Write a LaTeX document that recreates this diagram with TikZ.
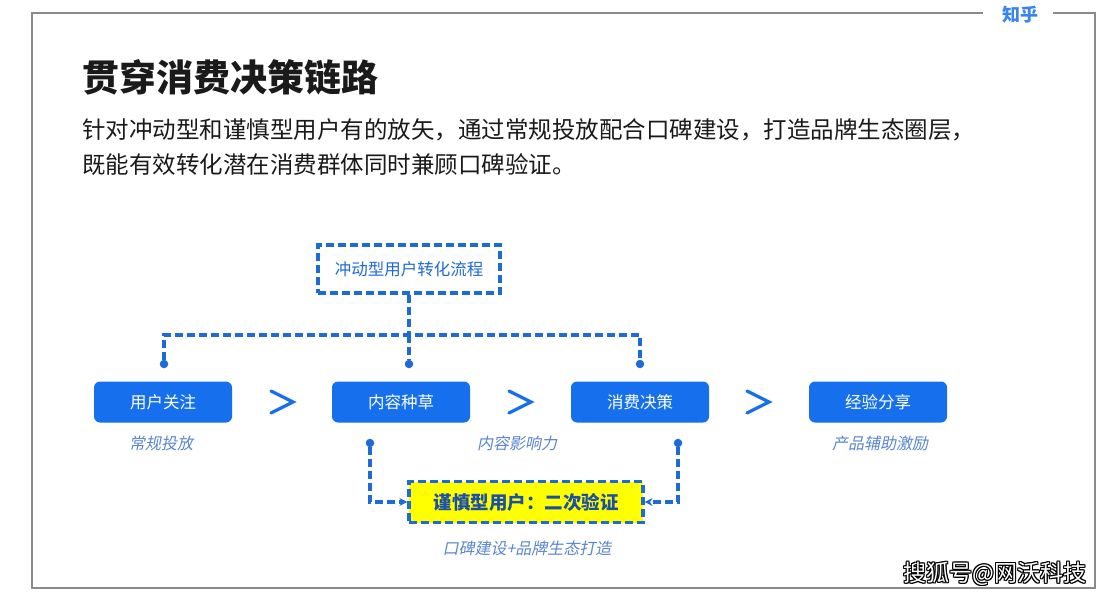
\documentclass[tikz,border=0pt]{standalone}
\usepackage{fontspec}
\setmainfont{Noto Sans CJK SC}
\newfontfamily\cjkit[FakeSlant=0.2]{Noto Sans CJK SC}
\usetikzlibrary{arrows.meta}
\definecolor{mainblue}{HTML}{1670EE}
\definecolor{lineblue}{HTML}{1E6AD6}
\definecolor{labelblue}{HTML}{5A86CF}
\definecolor{frame}{HTML}{8A8A8A}
\definecolor{titlec}{HTML}{1A1A1A}
\definecolor{yel}{HTML}{FFFF00}
\definecolor{darkblue}{HTML}{1C4FA8}
\tikzset{
  x=1pt,y=-1pt,
  stage/.style={fill=mainblue,rounded corners=6pt,minimum width=138pt,minimum height=41pt,inner sep=0pt,text=white,font=\fontsize{16.5}{18}\selectfont},
  dashline/.style={draw=lineblue,line width=3.2pt,dash pattern=on 8pt off 4pt},
  sublabel/.style={text=labelblue,font=\cjkit\fontsize{16}{18}\selectfont,inner sep=0pt},
  dotc/.style={circle,fill=lineblue,inner sep=0pt,minimum size=8.5pt},
  chev/.style={draw=mainblue,line width=3.2pt,line cap=round,line join=miter},
  tip/.style={-{Stealth[length=8pt,width=8pt]}}
}
\begin{document}
\begin{tikzpicture}
\useasboundingbox (0,0) rectangle (1108,599);
\fill[white] (0,0) rectangle (1108,599);
% frame
\draw[frame,line width=1.6pt] (983,13) -- (32,13) -- (32,588) -- (1095,588) -- (1095,13) -- (1053,13);
\node[text=mainblue!85,font=\fontsize{18}{20}\selectfont,inner sep=0pt] (zhihu) at (1020,15) {\bfseries 知乎};
% title and text
\node[anchor=west,text=titlec,font=\bfseries\fontsize{37}{42}\selectfont,inner sep=0pt] (title) at (82,77) {贯穿消费决策链路};
\node[anchor=west,text=titlec,font=\fontsize{23.5}{26}\selectfont,inner sep=0pt] (l1) at (82,130) {针对冲动型和谨慎型用户有的放矢，通过常规投放配合口碑建设，打造品牌生态圈层，};
\node[anchor=west,text=titlec,font=\fontsize{23.5}{26}\selectfont,inner sep=0pt] (l2) at (82,165) {既能有效转化潜在消费群体同时兼顾口碑验证。};
% top dashed box
\node[dashline,minimum width=182pt,minimum height=48pt,inner sep=0pt,text=lineblue,font=\fontsize{16.5}{18}\selectfont] (impulse) at (409,269) {冲动型用户转化流程};
% stages
\node[stage] (s1) at (163,402) {用户关注};
\node[stage] (s2) at (401,402) {内容种草};
\node[stage] (s3) at (640,402) {消费决策};
\node[stage] (s4) at (878,402) {经验分享};
% chevrons
\draw[chev] (271,391) -- (293,402) -- (271,413);
\draw[chev] (509,391) -- (531,402) -- (509,413);
\draw[chev] (747,391) -- (769,402) -- (747,413);
% sublabels
\node[sublabel] (c1) at (161,443) {常规投放};
\node[sublabel] (c2) at (517,443) {内容影响力};
\node[sublabel] (c3) at (880,443) {产品辅助激励};
% dots top
\node[dotc] (d1) at (164,364) {};
\node[dotc] (d2) at (409,364) {};
\node[dotc] (d3) at (640,364) {};
\coordinate (j) at (409,335);
\draw[dashline] (impulse.south) -- (j);
\draw[dashline] (d1) |- (j) -| (d3);
\draw[dashline] (j) -- (d2);
% cautious box
\node[dashline,fill=yel,minimum width=234pt,minimum height=41pt,inner sep=0pt,text=darkblue,font=\bfseries\fontsize{18.5}{20}\selectfont] (caut) at (526,502) {谨慎型用户：二次验证};
\node[dotc] (d4) at (370,443) {};
\node[dotc] (d5) at (678,443) {};
\draw[dashline,tip] (d4) |- (caut.west);
\draw[dashline,tip] (d5) |- (caut.east);
\node[sublabel] (c4) at (527,548) {口碑建设+品牌生态打造};
% watermark
\foreach \dx/\dy in {-1/0,1/0,0/-1,0/1,-0.8/-0.8,0.8/0.8,-0.8/0.8,0.8/-0.8}{
  \node[text=black,font=\fontsize{23}{25}\selectfont,inner sep=0pt] at (995+\dx,574+\dy) {搜狐号@网沃科技};
}
\node[text=white,font=\fontsize{23}{25}\selectfont,inner sep=0pt] (wm) at (995,574) {搜狐号@网沃科技};
\end{tikzpicture}
\end{document}
